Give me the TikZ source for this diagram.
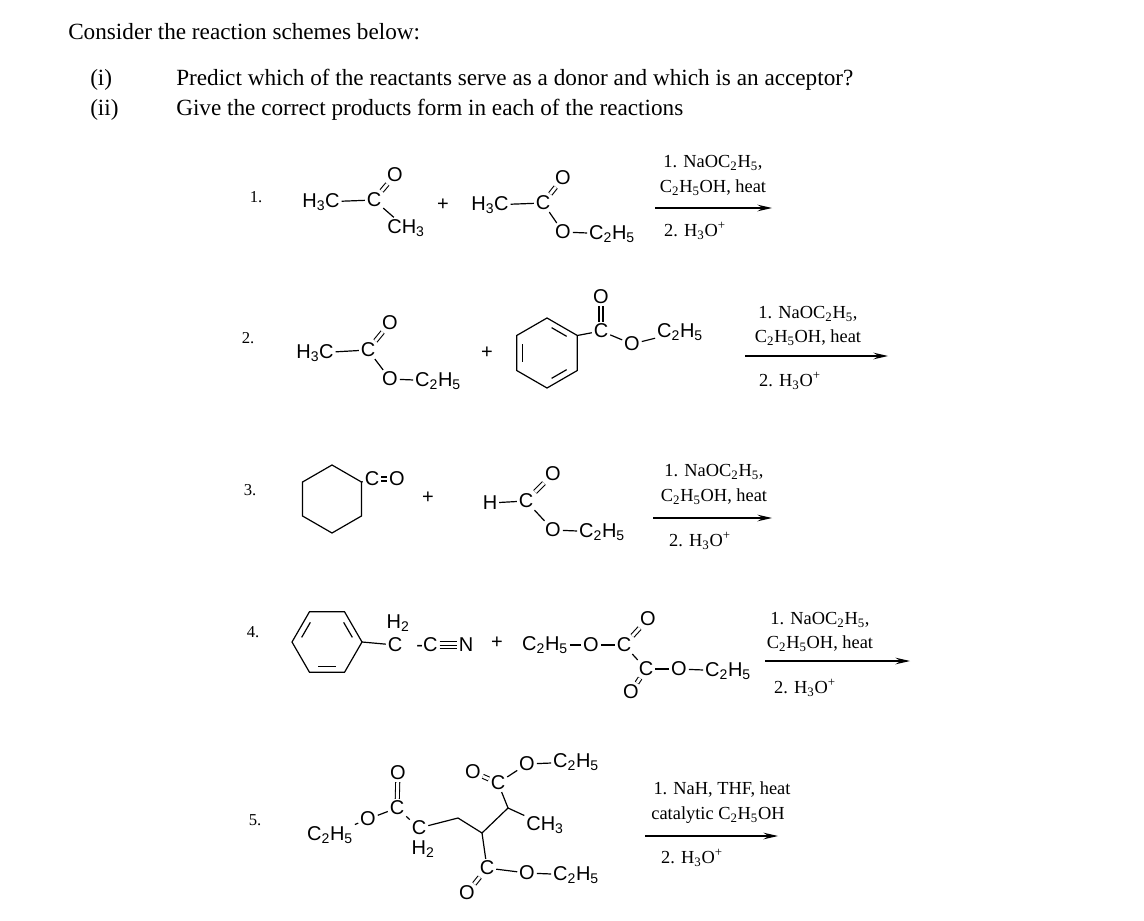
\documentclass[tikz,border=0pt]{standalone}
\usepackage{fontspec}
\setmainfont{Liberation Serif}
\newfontfamily\chemf{Liberation Sans}
\usetikzlibrary{calc,arrows.meta}
\tikzset{
  atm/.style={font=\chemf\fontsize{15}{17}\selectfont, inner sep=1.3pt},
  bd/.style={line width=0.9pt},
  dbl/.style={line width=0.8pt, double, double distance=2.2pt},
  hd/.style={font=\fontsize{17.4}{20}\selectfont, anchor=west, inner sep=0pt},
  cond/.style={font=\fontsize{13.8}{16}\selectfont, inner sep=0pt},
  num/.style={font=\fontsize{12.5}{15}\selectfont, inner sep=0pt},
  arr/.style={line width=0.9pt, -{Stealth[length=11pt,width=5pt,inset=4pt]}},
}
\begin{document}
\begin{tikzpicture}[x=0.75pt,y=-0.75pt]
\useasboundingbox (0,0) rectangle (1144,920);
% header
\node[hd] (t0) at (68,32) {Consider the reaction schemes below:};
\node[hd] (t1a) at (90,80) {(i)};
\node[hd] (t1b) at (176,80) {Predict which of the reactants serve as a donor and which is an acceptor?};
\node[hd] (t2a) at (90,110) {(ii)};
\node[hd] (t2b) at (176,110) {Give the correct products form in each of the reactions};

% ---------- scheme 1
\node[num] (n1) at (256,197) {1.};
\node[atm] (a1) at (321,202) {H\textsubscript{3}C};
\node[atm] (a2) at (374,200) {C};
\node[atm] (a3) at (395,175) {O};
\node[atm] (a4) at (406,228) {CH\textsubscript{3}};
\draw[bd] (a1) -- (a2); \draw[dbl] (a2) -- (a3); \draw[bd] (a2) -- (a4);
\node[atm] (p1) at (443,205) {+};
\node[atm] (b1) at (490,205) {H\textsubscript{3}C};
\node[atm] (b2) at (543,203) {C};
\node[atm] (b3) at (563,178) {O};
\node[atm] (b4) at (563,232) {O};
\node[atm] (b5) at (612,234) {C\textsubscript{2}H\textsubscript{5}};
\draw[bd] (b1) -- (b2); \draw[dbl] (b2) -- (b3); \draw[bd] (b2) -- (b4); \draw[bd] (b4) -- (b5);
\node[cond] (c1a) at (713,163) {1. NaOC\textsubscript{2}H\textsubscript{5},};
\node[cond] (c1b) at (713,188) {C\textsubscript{2}H\textsubscript{5}OH, heat};
\coordinate (r1s) at (655,208); \coordinate (r1e) at (772,208);
\draw[arr] (r1s) -- (r1e);
\node[cond] (c1c) at (695,231) {2. H\textsubscript{3}O\textsuperscript{+}};

% ---------- scheme 2
\node[num] (n2) at (248,338) {2.};
\node[atm] (d1) at (315,353) {H\textsubscript{3}C};
\node[atm] (d2) at (368,350) {C};
\node[atm] (d3) at (390,323) {O};
\node[atm] (d4) at (390,379) {O};
\node[atm] (d5) at (438,381) {C\textsubscript{2}H\textsubscript{5}};
\draw[bd] (d1) -- (d2); \draw[dbl] (d2) -- (d3); \draw[bd] (d2) -- (d4); \draw[bd] (d4) -- (d5);
\node[atm] (p2) at (487,353) {+};
\coordinate (bz) at (547,353);
\foreach \i/\a in {1/90,2/150,3/210,4/270,5/330,6/30} \coordinate (bz\i) at ($(bz)+(\a:35)$);
\draw[bd] (bz1)--(bz2)--(bz3)--(bz4)--(bz5)--(bz6)--cycle;
\foreach \u/\v in {2/3,4/5,6/1} \draw[bd, shorten <=4pt, shorten >=4pt] ($(bz)!0.8!(bz\u)$) -- ($(bz)!0.8!(bz\v)$);
\node[atm] (e1) at (601,331) {C};
\node[atm] (e2) at (601,297) {O};
\node[atm] (e3) at (632,344) {O};
\node[atm] (e4) at (680,332) {C\textsubscript{2}H\textsubscript{5}};
\draw[bd] (bz5) -- (e1); \draw[dbl] (e1) -- (e2); \draw[bd] (e1) -- (e3); \draw[bd] (e3) -- (e4);
\node[cond] (c2a) at (808,314) {1. NaOC\textsubscript{2}H\textsubscript{5},};
\node[cond] (c2b) at (808,338) {C\textsubscript{2}H\textsubscript{5}OH, heat};
\coordinate (r2s) at (745,356); \coordinate (r2e) at (888,356);
\draw[arr] (r2s) -- (r2e);
\node[cond] (c2c) at (790,381) {2. H\textsubscript{3}O\textsuperscript{+}};

% ---------- scheme 3
\node[num] (n3) at (250,490) {3.};
\coordinate (cy) at (332,499);
\foreach \i/\a in {1/90,2/150,3/210,4/270,5/330,6/30} \coordinate (cy\i) at ($(cy)+(\a:34)$);
\draw[bd] (cy1)--(cy2)--(cy3)--(cy4)--(cy5)--(cy6)--cycle;
\node[atm] (f1) at (372,479) {C};
\node[atm] (f2) at (397,479) {O};
\draw[bd] (cy5) -- (f1); \draw[dbl] (f1) -- (f2);
\node[atm] (p3) at (428,498) {+};
\node[atm] (g1) at (490,503) {H};
\node[atm] (g2) at (526,501) {C};
\node[atm] (g3) at (553,474) {O};
\node[atm] (g4) at (553,530) {O};
\node[atm] (g5) at (602,532) {C\textsubscript{2}H\textsubscript{5}};
\draw[bd] (g1) -- (g2); \draw[dbl] (g2) -- (g3); \draw[bd] (g2) -- (g4); \draw[bd] (g4) -- (g5);
\node[cond] (c3a) at (714,472) {1. NaOC\textsubscript{2}H\textsubscript{5},};
\node[cond] (c3b) at (714,497) {C\textsubscript{2}H\textsubscript{5}OH, heat};
\coordinate (r3s) at (653,518); \coordinate (r3e) at (772,518);
\draw[arr] (r3s) -- (r3e);
\node[cond] (c3c) at (700,541) {2. H\textsubscript{3}O\textsuperscript{+}};

% ---------- scheme 4
\node[num] (n4) at (253,632) {4.};
\coordinate (bb) at (327,642);
\foreach \i/\a in {1/0,2/60,3/120,4/180,5/240,6/300} \coordinate (bb\i) at ($(bb)+(\a:35)$);
\draw[bd] (bb1)--(bb2)--(bb3)--(bb4)--(bb5)--(bb6)--cycle;
\foreach \u/\v in {1/6,2/3,4/5} \draw[bd, shorten <=4pt, shorten >=4pt] ($(bb)!0.8!(bb\u)$) -- ($(bb)!0.8!(bb\v)$);
\node[atm] (h1) at (395,645) {C};
\node[atm, inner sep=0pt] (h1h) at (398,623) {H\textsubscript{2}};
\node[atm] (h2) at (427,645) {-C};
\node[atm] (h3) at (466,645) {N};
\draw[bd] (bb1) -- (h1);
\foreach \s in {-2.6,0,2.6} \draw[line width=0.7pt] ([yshift=\s pt]h2.east) -- ([yshift=\s pt]h3.west);
\node[atm] (p4) at (497,643) {+};
\node[atm] (k1) at (545,645) {C\textsubscript{2}H\textsubscript{5}};
\node[atm] (k2) at (591,645) {O};
\node[atm] (k3) at (624,645) {C};
\node[atm] (k4) at (648,619) {O};
\node[atm] (k5) at (646,669) {C};
\node[atm] (k6) at (631,692) {O};
\node[atm] (k7) at (679,669) {O};
\node[atm] (k8) at (728,671) {C\textsubscript{2}H\textsubscript{5}};
\draw[bd] (k1) -- (k2); \draw[bd] (k2) -- (k3); \draw[dbl] (k3) -- (k4); \draw[bd] (k3) -- (k5);
\draw[dbl] (k5) -- (k6); \draw[bd] (k5) -- (k7); \draw[bd] (k7) -- (k8);
\node[cond] (c4a) at (820,620) {1. NaOC\textsubscript{2}H\textsubscript{5},};
\node[cond] (c4b) at (820,644) {C\textsubscript{2}H\textsubscript{5}OH, heat};
\coordinate (r4s) at (765,661); \coordinate (r4e) at (910,661);
\draw[arr] (r4s) -- (r4e);
\node[cond] (c4c) at (805,688) {2. H\textsubscript{3}O\textsuperscript{+}};

% ---------- scheme 5
\node[num] (n5) at (255,820) {5.};
\node[atm] (m1) at (330,835) {C\textsubscript{2}H\textsubscript{5}};
\node[atm] (m2) at (368,819) {O};
\node[atm] (m3) at (397,808) {C};
\node[atm] (m4) at (398,773) {O};
\node[atm] (m5) at (419,828) {C};
\node[atm, inner sep=0pt] (m5h) at (423,849) {H\textsubscript{2}};
\coordinate (v1) at (458,818);
\coordinate (v2) at (482,833);
\coordinate (v3) at (508,808);
\node[atm] (m6) at (545,825) {CH\textsubscript{3}};
\node[atm] (m7) at (498,783) {C};
\node[atm] (m8) at (473,772) {O};
\node[atm] (m9) at (527,764) {O};
\node[atm] (m10) at (576,762) {C\textsubscript{2}H\textsubscript{5}};
\node[atm] (m11) at (487,868) {C};
\node[atm] (m12) at (467,893) {O};
\node[atm] (m13) at (527,873) {O};
\node[atm] (m14) at (576,875) {C\textsubscript{2}H\textsubscript{5}};
\draw[bd] (m1) -- (m2); \draw[bd] (m2) -- (m3); \draw[dbl] (m3) -- (m4); \draw[bd] (m3) -- (m5);
\draw[bd] (m5) -- (v1) -- (v2) -- (v3); \draw[bd] (v3) -- (m6); \draw[bd] (v3) -- (m7);
\draw[dbl] (m7) -- (m8); \draw[bd] (m7) -- (m9); \draw[bd] (m9) -- (m10);
\draw[bd] (v2) -- (m11); \draw[dbl] (m11) -- (m12); \draw[bd] (m11) -- (m13); \draw[bd] (m13) -- (m14);
\node[cond] (c5a) at (722,790) {1. NaH, THF, heat};
\node[cond] (c5b) at (718,815) {catalytic C\textsubscript{2}H\textsubscript{5}OH};
\coordinate (r5s) at (645,836); \coordinate (r5e) at (778,836);
\draw[arr] (r5s) -- (r5e);
\node[cond] (c5c) at (692,858) {2. H\textsubscript{3}O\textsuperscript{+}};
\end{tikzpicture}
\end{document}
